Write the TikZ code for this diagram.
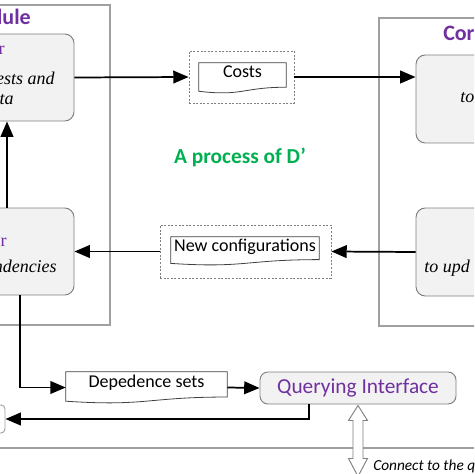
\documentclass[tikz,border=0pt]{standalone}
\usepackage{fontspec}
\setmainfont{Liberation Serif}
\setsansfont{Carlito}
\usetikzlibrary{arrows.meta,calc}
\definecolor{purp}{HTML}{7030A0}
\definecolor{grn}{HTML}{00B050}
\definecolor{boxfill}{HTML}{F2F2F2}
\definecolor{boxline}{HTML}{7F7F7F}
\definecolor{frameline}{HTML}{A0A0A0}
% outline of a document shape around a node
\newcommand\docline[1]{%
  \draw[docedge] (#1.north west) -- (#1.north east)
    -- ($(#1.north east)!0.802!(#1.south east)$)
    .. controls ($(#1.north)!0.802!(#1.south)$) and ($(#1.north)!1.107!(#1.south)$)
    .. ($(#1.north west)!0.934!(#1.south west)$) -- cycle;}
\tikzset{
  frame/.style={draw=frameline, line width=0.8pt},
  proc/.style={draw=boxline, fill=boxfill, rounded corners=7pt, line width=0.7pt,
    minimum width=100.5pt, minimum height=65.25pt},
  holder/.style={draw=gray, dash pattern=on 1.5pt off 1.2pt, line width=0.6pt, inner sep=0pt},
  docnode/.style={font=\sffamily\fontsize{13.5}{15}\selectfont, text height=9pt,
    text depth=9pt, inner sep=0pt},
  docedge/.style={draw=black!75, line width=0.6pt},
  flow/.style={line width=1.3pt, -{Triangle[length=11.5pt,width=9.5pt]}},
  frag/.style={font=\itshape\fontsize{13.5}{15}\selectfont, inner sep=0pt},
  title/.style={font=\sffamily\bfseries\fontsize{16.5}{18}\selectfont, text=purp, inner sep=0pt},
}
\begin{document}
\begin{tikzpicture}[x=0.75pt, y=-0.75pt]
  \useasboundingbox (0,0) rectangle (474,474);
  \clip (0,0) rectangle (474,474);
  % Module frames
  \draw[frame] (-60,5) rectangle (110,325);
  \draw[frame] (379,18) rectangle (560,326);
  \node[title, anchor=base east] (modL) at (31,25) {dule};
  \node[title, anchor=base west] (modR) at (443,41) {Cor};
  % Process boxes
  \node[proc] (boxTL) at (7,77.5) {};
  \node[proc] (boxBL) at (7,251.5) {};
  \node[proc, minimum width=108pt, minimum height=66pt] (boxTR) at (488,99) {};
  \node[proc, minimum width=108pt, minimum height=66pt] (boxBR) at (488,252) {};
  % Texts in the boxes
  \node[frag, font=\fontsize{13.5}{15}\selectfont, text=purp, anchor=base east] (tlA) at (5,55) {r};
  \node[frag, anchor=base east] (tlB) at (55,85) {ests and};
  \node[frag, anchor=base east] (tlC) at (14,105) {ta};
  \node[frag, font=\fontsize{13.5}{15}\selectfont, text=purp, anchor=base east] (blA) at (7,246) {r};
  \node[frag, anchor=base east] (blB) at (57,272) {ndencies};
  \node[frag, anchor=base west] (trA) at (460,103) {to};
  \node[frag, anchor=base west] (brA) at (424,272) {to upd};
  % Data holders
  \node[holder, minimum width=78.75pt, minimum height=39pt] (costsBox) at (241.5,77) {};
  \node[docnode, minimum width=65.25pt, minimum height=22.5pt] (costs) at (242.5,78) {Costs};
  \docline{costs}
  \node[holder, minimum width=128.25pt, minimum height=39.75pt] (configBox) at (245.5,251.5) {};
  \node[docnode, minimum width=111pt, minimum height=21pt] (config) at (245,251) {New configurations};
  \docline{config}
  \node[docnode, minimum width=120.75pt, minimum height=23.25pt] (dep) at (146.5,387.5) {Depedence sets};
  \docline{dep}
  % Querying interface
  \node[proc, rounded corners=6pt, minimum width=147pt, minimum height=24pt, text=purp,
    font=\sffamily\fontsize{16}{18}\selectfont] (qi) at (358,388) {Querying Interface};
  \node[proc, draw=frameline, fill=white, rounded corners=3pt, minimum width=26.25pt,
    minimum height=21pt] (small) at (-12.5,419) {};
  % Caption
  \node[font=\sffamily\bfseries\fontsize{16}{18}\selectfont, text=grn] (cap) at (240,157) {A process of D’};
  % Flows
  \draw[flow] (boxTL.east) -- (costsBox.west);
  \draw[flow] (costsBox.east) -- (costsBox.east -| boxTR.west);
  \draw[flow] (boxBR.west) -- (configBox.east);
  \draw[flow] (configBox.west) -- (boxBL.east);
  \draw[flow] (boxBL.north) -- (boxTL.south);
  \draw[flow] ([xshift=9.75pt]boxBL.south) |- (dep.west);
  \draw[flow] (dep.east) -- (qi.west);
  \draw[flow] ([xshift=-36.75pt]qi.south) |- (small.east);
  % Bottom rule and link
  \draw[frame] (0,448) -- (474,448);
  \draw[draw=boxline, fill=white, line width=0.7pt, shift={(qi.south)}]
    (0,1) -- (9.5,16) -- (5,16) -- (5,54) -- (9.5,54) -- (0,72)
    -- (-9.5,54) -- (-5,54) -- (-5,16) -- (-9.5,16) -- cycle;
  \node[font=\sffamily\itshape\fontsize{11.5}{13}\selectfont, anchor=base west, inner sep=0pt]
    (link) at (373,470) {Connect to the q};
\end{tikzpicture}
\end{document}
